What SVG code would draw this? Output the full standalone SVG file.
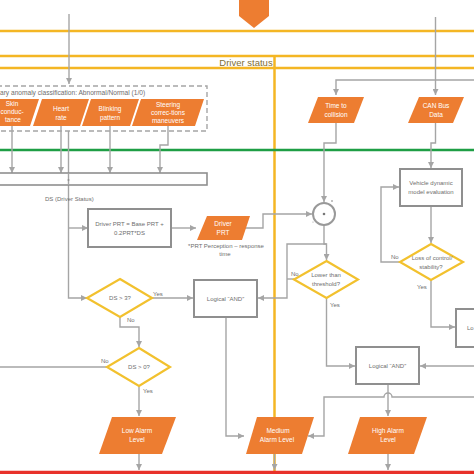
<svg xmlns="http://www.w3.org/2000/svg" width="474" height="474" viewBox="0 0 474 474">
<style>
.lane{stroke:#F4B624;stroke-width:2.5;fill:none}
.ln{stroke:#A5A5A5;stroke-width:1.4;fill:none}
.box{fill:#fff;stroke:#8F8F8F;stroke-width:2}
.dia{fill:#fff;stroke:#F2C12E;stroke-width:2.2}
.io{fill:#ED7D31}
.t{font-family:"Liberation Sans",Arial,sans-serif;font-size:6px;fill:#6E6E6E;text-anchor:middle}
.tw{font-family:"Liberation Sans",Arial,sans-serif;font-size:6.5px;fill:#fff;text-anchor:middle}
.tl{font-family:"Liberation Sans",Arial,sans-serif;font-size:6px;fill:#6E6E6E}
</style>
<defs>
<marker id="ah" viewBox="0 0 10 10" refX="10" refY="5" markerWidth="6" markerHeight="6" markerUnits="userSpaceOnUse" orient="auto">
<path d="M0,0 L10,5 L0,10 z" fill="#A5A5A5"/>
</marker>
</defs>
<rect width="474" height="474" fill="#fff"/>
<g id="lanes">
<line class="lane" x1="0" y1="31" x2="474" y2="31"/>
<line class="lane" x1="0" y1="56" x2="474" y2="56"/>
<line class="lane" x1="0" y1="68" x2="474" y2="68"/>
<line class="lane" x1="274.5" y1="56" x2="274.5" y2="474"/>
<line x1="0" y1="150" x2="474" y2="150" stroke="#1E9E45" stroke-width="2.5"/>
<line x1="0" y1="472.5" x2="474" y2="472.5" stroke="#E8312A" stroke-width="3.5"/>
<text x="246" y="65.5" font-family="Liberation Sans,Arial,sans-serif" font-size="9.5" fill="#7F6F35" text-anchor="middle">Driver status</text>
</g>
<g id="start"><path d="M239,0 H269 V16 L254,28 L239,16 z" fill="#ED7D31"/></g>
<g id="connectors">
<path class="ln" d="M69,14 V84" marker-end="url(#ah)"/>
<path class="ln" d="M435.5,17 V95" marker-end="url(#ah)"/>
<path class="ln" d="M474,80 H336 V95" marker-end="url(#ah)"/>
<path class="ln" d="M12,126 V173" marker-end="url(#ah)"/>
<path class="ln" d="M61,126 V173" marker-end="url(#ah)"/>
<path class="ln" d="M110,126 V173" marker-end="url(#ah)"/>
<path class="ln" d="M168,126 V145 H160 V173" marker-end="url(#ah)"/>
<path class="ln" d="M68.5,131 V298 H87" marker-end="url(#ah)"/>
<path class="ln" d="M68.5,228 H88" marker-end="url(#ah)"/>
<path class="ln" d="M171,228 H196" marker-end="url(#ah)"/>
<path class="ln" d="M244,228 H263 V214 H312" marker-end="url(#ah)"/>
<path class="ln" d="M336,123 V143 H324 V202" marker-end="url(#ah)"/>
<path class="ln" d="M435.5,123 V143 H431 V168" marker-end="url(#ah)"/>
<path class="ln" d="M431,206 V243" marker-end="url(#ah)"/>
<path class="ln" d="M400,262 H381 V187 H399" marker-end="url(#ah)"/>
<path class="ln" d="M431,280 V327 H455" marker-end="url(#ah)"/>
<path class="ln" d="M324,225 V244 H326.5 V260" marker-end="url(#ah)"/>
<path class="ln" d="M326.5,244 H287 V298 H258" marker-end="url(#ah)"/>
<path class="ln" d="M294,279 H287"/>
<path class="ln" d="M326.5,298 V366 H355" marker-end="url(#ah)"/>
<path class="ln" d="M474,366 H420" marker-end="url(#ah)"/>
<path class="ln" d="M152,298 H193" marker-end="url(#ah)"/>
<path class="ln" d="M120,317 V327 H139 V347" marker-end="url(#ah)"/>
<path class="ln" d="M107,367 H0"/>
<path class="ln" d="M139,386 V416" marker-end="url(#ah)"/>
<path class="ln" d="M139,454 V470" marker-end="url(#ah)"/>
<path class="ln" d="M226,317 V436 H244" marker-end="url(#ah)"/>
<path class="ln" d="M474,397 H392 A4,4 0 0 0 384,397 H324 V436 H308" marker-end="url(#ah)"/>
<path class="ln" d="M388,384 V416" marker-end="url(#ah)"/>
<path class="ln" d="M388,454 V470" marker-end="url(#ah)"/>
<path class="ln" d="M274.5,454 V470" marker-end="url(#ah)"/>
</g>
<g id="classification">
<rect x="-3" y="86" width="210" height="45" fill="none" stroke="#A5A5A5" stroke-width="1.4" stroke-dasharray="5,3"/>
<text class="tl" x="0" y="95" font-size="6.6" style="font-size:6.6px">ary anomaly classification: Abnormal/Normal (1/0)</text>
</g>
<g id="skin"><polygon class="io" points="-20,126 30,126 39,99 -11,99"/><text class="tw" x="12" y="106">Skin</text><text class="tw" x="12" y="114">conduc-</text><text class="tw" x="13" y="122">tance</text></g>
<g id="heart"><polygon class="io" points="33,126 80,126 89,99 42,99"/><text class="tw" x="61" y="111">Heart</text><text class="tw" x="61" y="120">rate</text></g>
<g id="blink"><polygon class="io" points="82,126 130,126 139,99 91,99"/><text class="tw" x="110" y="111">Blinking</text><text class="tw" x="110" y="120">pattern</text></g>
<g id="steer"><polygon class="io" points="132,126 195,126 204,99 141,99"/><text class="tw" x="168" y="107">Steering</text><text class="tw" x="168" y="115">correc-tions</text><text class="tw" x="168" y="123">maneuvers</text></g>
<g id="bar"><rect x="-3" y="173" width="210" height="12" fill="#fff" stroke="#8F8F8F" stroke-width="1.6"/><line class="ln" x1="68.5" y1="173" x2="68.5" y2="185"/><circle cx="68.5" cy="180" r="1" fill="#8F8F8F"/></g>
<g id="ds-label"><text class="tl" x="45" y="201">DS (Driver Status)</text></g>
<g id="prt-calc"><rect class="box" x="88" y="209" width="83" height="38"/><text class="t" x="129.5" y="226">Driver PRT = Base PRT +</text><text class="t" x="129.5" y="235">0.2PRT*DS</text></g>
<g id="driver-prt"><polygon class="io" points="197,240 242,240 250,216 207,216"/><text class="tw" x="223" y="226">Driver</text><text class="tw" x="223" y="235">PRT</text>
<text class="t" x="226" y="247.5">*PRT Perception – response</text><text class="t" x="225" y="256">time</text></g>
<g id="ttc"><polygon class="io" points="308,123 354,123 364,97 318,97"/><text class="tw" x="336" y="108">Time to</text><text class="tw" x="336" y="117">collision</text></g>
<g id="can"><polygon class="io" points="408,123 453,123 464,97 419,97"/><text class="tw" x="436" y="108">CAN Bus</text><text class="tw" x="436" y="117">Data</text></g>
<g id="sum"><circle cx="324" cy="214" r="11" fill="#fff" stroke="#999" stroke-width="2"/><circle cx="324" cy="214" r="1.3" fill="#777"/><circle cx="332" cy="201" r="0.8" fill="#777"/><circle cx="313" cy="222" r="0.6" fill="#999"/></g>
<g id="vehicle"><rect class="box" x="400" y="169" width="62" height="37"/><text class="t" x="431" y="185">Vehicle dynamic</text><text class="t" x="431" y="194">model evaluation</text></g>
<g id="loss"><polygon class="dia" points="431,244 463,262 431,280 400,262"/><text class="t" x="432" y="260">Loss of control/</text><text class="t" x="431" y="269">stability?</text>
<text class="tl" x="391" y="259">No</text><text class="tl" x="417" y="289">Yes</text></g>
<g id="lower"><polygon class="dia" points="326.5,261 358,279.5 326.5,298 294,279.5"/><text class="t" x="326" y="277">Lower than</text><text class="t" x="326" y="286">threshold?</text>
<text class="tl" x="291" y="276">No</text><text class="tl" x="330" y="307">Yes</text></g>
<g id="and-left"><rect class="box" x="194" y="280" width="63" height="37"/><text class="t" x="225.5" y="300.5">Logical “AND”</text></g>
<g id="ds3"><polygon class="dia" points="120,279 152,298 120,317 87,298"/><text class="t" x="120" y="300">DS &gt; 3?</text><text class="tl" x="153" y="296">Yes</text><text class="tl" x="127" y="322">No</text></g>
<g id="ds0"><polygon class="dia" points="139,348 170,367 139,386 107,367"/><text class="t" x="139" y="369">DS &gt; 0?</text><text class="tl" x="101" y="363">No</text><text class="tl" x="143" y="393">Yes</text></g>
<g id="and-mid"><rect class="box" x="356" y="347" width="63" height="37"/><text class="t" x="387.5" y="368">Logical “AND”</text></g>
<g id="and-right"><rect class="box" x="456" y="309" width="30" height="38"/><text class="tl" x="467" y="330">Lo</text></g>
<g id="low"><polygon class="io" points="99,454 162,454 176,417 112,417"/><text class="tw" x="137" y="433">Low Alarm</text><text class="tw" x="137" y="442">Level</text></g>
<g id="medium"><polygon class="io" points="246,454 302,454 314,417 257,417"/><text class="tw" x="278" y="433">Medium</text><text class="tw" x="277" y="442">Alarm Level</text></g>
<g id="high"><polygon class="io" points="348,454 414,454 427,417 360,417"/><text class="tw" x="388" y="433">High Alarm</text><text class="tw" x="388" y="442">Level</text></g>
</svg>
